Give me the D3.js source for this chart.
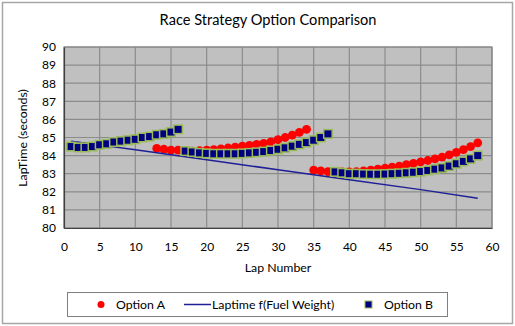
<!DOCTYPE html>
<html><head><meta charset="utf-8">
<script src="https://cdn.jsdelivr.net/npm/d3@7"></script>
<style>body{margin:0;background:#fff}text{font-family:Lato,"Open Sans",sans-serif;fill:#000}</style>
</head><body><svg id="c" width="515" height="326"></svg>
<script>
const title = "Race Strategy Option Comparison";
const xTicks = [0,5,10,15,20,25,30,35,40,45,50,55,60];
const yTicks = [80,81,82,83,84,85,86,87,88,89,90];
const lapsA = [13,14,15,16,17,18,19,20,21,22,23,24,25,26,27,28,29,30,31,32,33,34,
  35,36,37,38,39,40,41,42,43,44,45,46,47,48,49,50,51,52,53,54,55,56,57,58];
const timesA = [84.4,84.35,84.3,84.3,84.25,84.25,84.27,84.3,84.33,84.37,84.42,84.47,84.52,84.57,84.62,84.68,84.76,84.88,85.0,85.13,85.28,85.45,
  83.2,83.15,83.12,83.1,83.1,83.1,83.12,83.15,83.2,83.25,83.3,83.36,83.42,83.5,83.57,83.65,83.73,83.82,83.92,84.04,84.18,84.33,84.5,84.7];
const lapsB = [1,2,3,4,5,6,7,8,9,10,11,12,13,14,15,16,
  17,18,19,20,21,22,23,24,25,26,27,28,29,30,31,32,33,34,35,36,37,
  38,39,40,41,42,43,44,45,46,47,48,49,50,51,52,53,54,55,56,57,58];
const timesB = [84.5,84.45,84.45,84.5,84.6,84.65,84.75,84.8,84.85,84.9,85.0,85.05,85.15,85.2,85.3,85.45,
  84.25,84.2,84.15,84.12,84.1,84.1,84.1,84.1,84.12,84.15,84.18,84.22,84.28,84.35,84.43,84.52,84.62,84.72,84.85,85.0,85.2,
  83.1,83.05,83.0,83.0,82.98,82.97,82.97,82.98,83.0,83.02,83.05,83.08,83.12,83.18,83.25,83.32,83.42,83.55,83.68,83.82,84.0];
const lapsFuel = [1,10,20,30,40,50,58];
const timesFuel = [84.8,84.32,83.77,83.22,82.67,82.12,81.65];
const seriesNames = ["Option A","Laptime f(Fuel Weight)","Option B"];

const svg = d3.select("#c");
svg.append("rect").attr("x",2.5).attr("y",2.5).attr("width",510).attr("height",321)
  .attr("fill","#fff").attr("stroke","#a6a6a6").attr("stroke-width",1.5);
const L=64,R=492,T=47,B=228;
const x = d3.scaleLinear().domain([0,60]).range([L,R]);
const y = d3.scaleLinear().domain([80,90]).range([B,T]);

svg.append("rect").attr("x",L).attr("y",T).attr("width",R-L).attr("height",B-T).attr("fill","#c0c0c0");
svg.append("g").selectAll("line").data(yTicks).join("line")
  .attr("x1",L).attr("x2",R).attr("y1",d=>y(d)).attr("y2",d=>y(d)).attr("stroke","#8c8c8c").attr("stroke-width",1.2);
svg.append("g").selectAll("line").data(xTicks).join("line")
  .attr("y1",T).attr("y2",B).attr("x1",d=>x(d)).attr("x2",d=>x(d)).attr("stroke","#8c8c8c").attr("stroke-width",1.2);
svg.append("rect").attr("x",L).attr("y",T).attr("width",R-L).attr("height",B-T).attr("fill","none").attr("stroke","#808080");

const xa = svg.append("g").attr("transform",`translate(0,${B})`)
  .call(d3.axisBottom(x).tickValues(xTicks).tickSize(0).tickPadding(14));
xa.select(".domain").attr("stroke","#404040").attr("stroke-width",1.2);
xa.selectAll("text").attr("font-size",12).style("font-family","Lato,sans-serif");
const ya = svg.append("g").attr("transform",`translate(${L},0)`)
  .call(d3.axisLeft(y).tickValues(yTicks).tickSize(0).tickPadding(8));
ya.select(".domain").attr("stroke","#404040").attr("stroke-width",1.2);
ya.selectAll("text").attr("font-size",12).style("font-family","Lato,sans-serif");

svg.append("text").attr("x",268).attr("y",25).attr("text-anchor","middle").attr("font-size",14.6).text(title);
svg.append("text").attr("x",278).attr("y",272).attr("text-anchor","middle").attr("font-size",12.3).text("Lap Number");
svg.append("text").attr("transform","translate(27,138) rotate(-90)").attr("text-anchor","middle").attr("font-size",12.3).text("LapTime (seconds)");

// Option A
svg.append("g").selectAll("circle").data(lapsA.map((l,i)=>[l,timesA[i]])).join("circle")
  .attr("cx",d=>x(d[0])).attr("cy",d=>y(d[1])).attr("r",4.4).attr("fill","#ff0000");
// Fuel line
svg.append("path").datum(lapsFuel.map((l,i)=>[l,timesFuel[i]]))
  .attr("d",d3.line().x(d=>x(d[0])).y(d=>y(d[1]))).attr("fill","none").attr("stroke","#1f1f96").attr("stroke-width",1.5);
// Option B
const s=8.5;
svg.append("g").selectAll("rect").data(lapsB.map((l,i)=>[l,timesB[i]])).join("rect")
  .attr("x",d=>x(d[0])-s/2).attr("y",d=>y(d[1])-s/2).attr("width",s).attr("height",s)
  .attr("fill","#000080").attr("stroke","#9bbb59").attr("stroke-width",1.5);

// Legend
const lg = svg.append("g");
lg.append("rect").attr("x",67.5).attr("y",292.5).attr("width",380).attr("height",24).attr("fill","#fff").attr("stroke","#808080");
const ly=304.5;
lg.append("circle").attr("cx",101).attr("cy",ly).attr("r",3.5).attr("fill","#ff0000");
lg.append("text").attr("x",116).attr("y",ly+4).attr("font-size",12.3).text(seriesNames[0]);
lg.append("line").attr("x1",184).attr("x2",211).attr("y1",ly).attr("y2",ly).attr("stroke","#1f1f96").attr("stroke-width",1.5);
lg.append("text").attr("x",212).attr("y",ly+4).attr("font-size",12.3).text(seriesNames[1]);
lg.append("rect").attr("x",365).attr("y",ly-3.5).attr("width",7).attr("height",7).attr("fill","#000080").attr("stroke","#9bbb59").attr("stroke-width",1);
lg.append("text").attr("x",384).attr("y",ly+4).attr("font-size",12.3).text(seriesNames[2]);
</script></body></html>
